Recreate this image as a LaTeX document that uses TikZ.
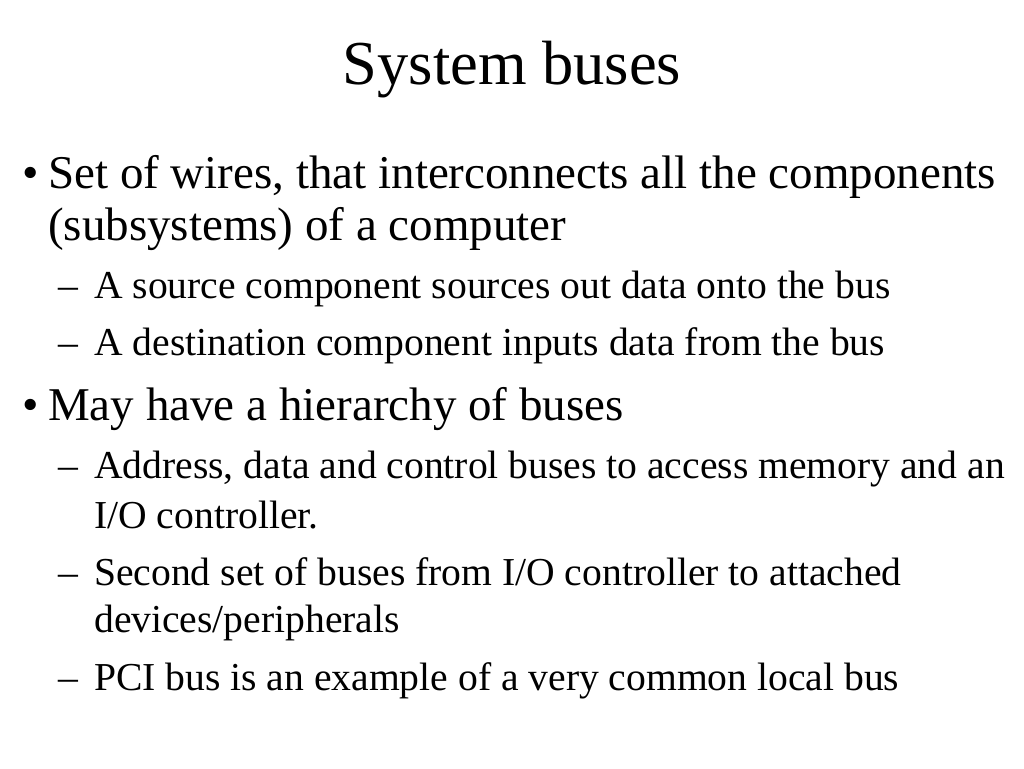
\documentclass[tikz,border=0pt]{standalone}
\usepackage{fontspec}
\setmainfont{Liberation Serif}
\tikzset{
  titletext/.style={anchor=base,inner sep=0pt,font=\fontsize{62.5}{70}\selectfont},
  lvlone/.style={anchor=base west,inner sep=0pt,font=\fontsize{47}{54}\selectfont},
  lvltwo/.style={anchor=base west,inner sep=0pt,font=\fontsize{39.6}{46}\selectfont}
}
\begin{document}
\begin{tikzpicture}[x=1pt,y=-1pt]
\useasboundingbox[fill=white] (0,0) rectangle (1024,768);
\node[titletext] (title) at (512,84) {System buses};
% first bullet
\node[lvlone] (b1) at (22,188) {•};
\node[lvlone] (t1) at (48,188) {Set of wires, that interconnects all the components};
\node[lvlone] (t1b) at (48,240) {(subsystems) of a computer};
\node[lvltwo] (d1) at (58,298) {–};
\node[lvltwo] (s1) at (94,298) {A source component sources out data onto the bus};
\node[lvltwo] (d2) at (58,355) {–};
\node[lvltwo] (s2) at (94,355) {A destination component inputs data from the bus};
% second bullet
\node[lvlone] (b2) at (22,420) {•};
\node[lvlone] (t2) at (48,420) {May have a hierarchy of buses};
\node[lvltwo] (d3) at (58,478) {–};
\node[lvltwo] (s3) at (94,478) {Address, data and control buses to access memory and an};
\node[lvltwo] (s3b) at (94,528) {I/O controller.};
\node[lvltwo] (d4) at (58,585) {–};
\node[lvltwo] (s4) at (94,585) {Second set of buses from I/O controller to attached};
\node[lvltwo] (s4b) at (94,632) {devices/peripherals};
\node[lvltwo] (d5) at (58,690) {–};
\node[lvltwo] (s5) at (94,690) {PCI bus is an example of a very common local bus};
\end{tikzpicture}
\end{document}
